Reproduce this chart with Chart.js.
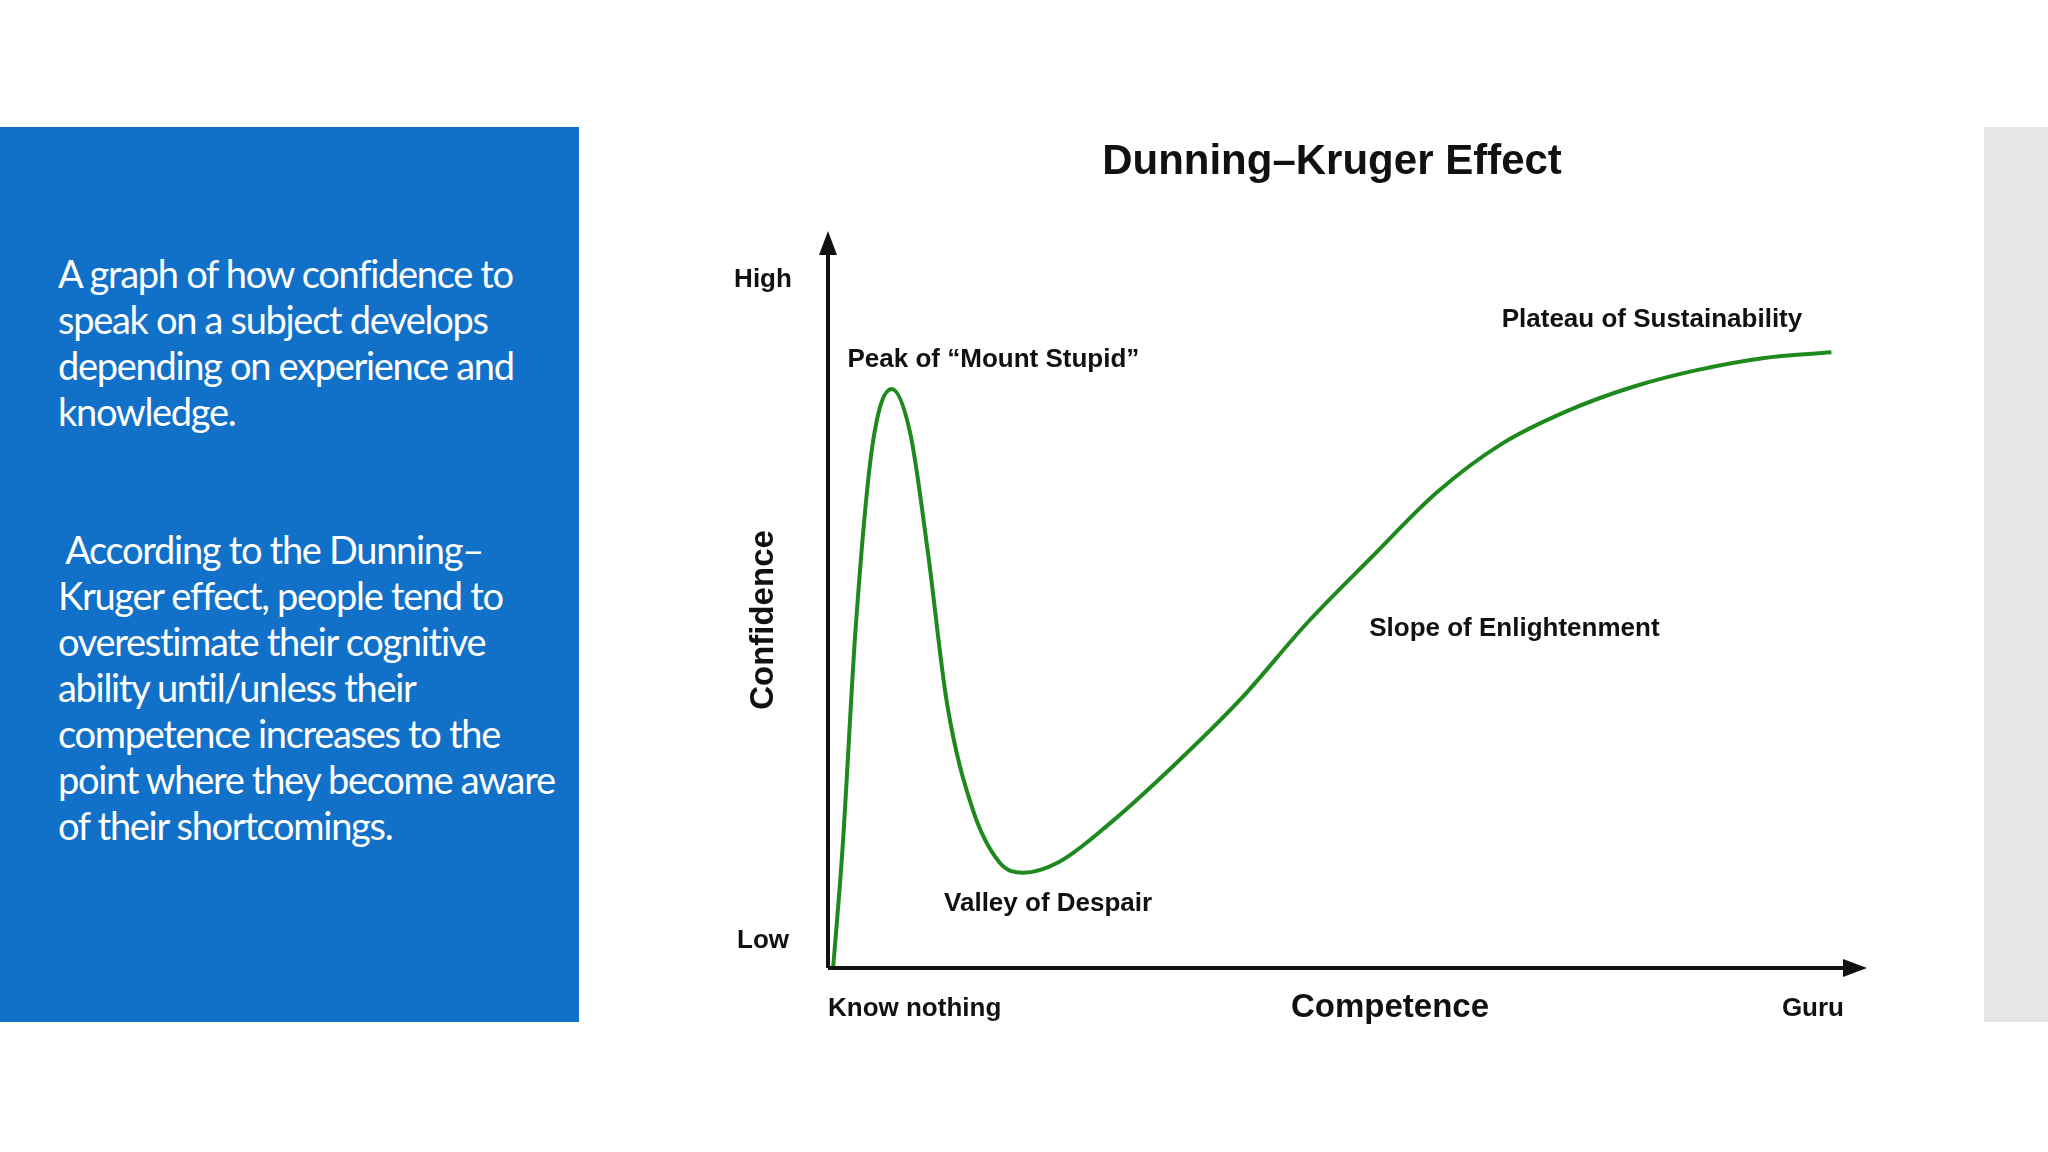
<!DOCTYPE html>
<html><head><meta charset="utf-8">
<script src="https://cdn.jsdelivr.net/npm/chart.js@4"></script>
<style>
html,body{margin:0;padding:0;background:#fff;width:2048px;height:1152px;overflow:hidden;position:relative;font-family:"Liberation Sans",Arial,sans-serif}
#blue{position:absolute;left:0;top:127px;width:579px;height:895px;background:#1170C8}
#gray{position:absolute;left:1984px;top:127px;width:64px;height:895px;background:#e6e6e6}
#txt{position:absolute;left:58px;top:250px;width:500px;color:#fff;font-family:Lato,"Open Sans",sans-serif;font-size:38px;line-height:46px;letter-spacing:-1.3px}
#txt p{margin:0 0 92px 0}
#c{position:absolute;left:0;top:0}
</style></head><body>
<div id="blue"></div><div id="gray"></div>
<div id="txt"><p>A graph of how confidence to speak on a subject develops depending on experience and knowledge.</p><p>&nbsp;According to the Dunning–Kruger effect, people tend to overestimate their cognitive ability until/unless their competence increases to the point where they become aware of their shortcomings.</p></div>
<canvas id="c" width="2048" height="1152"></canvas>
<script>
const competence=[0.5,1.4,2.7,4.3,6.2,8,9.7,11.6,14.1,16.7,19,22.4,27.5,33.8,40.2,46.6,52.9,59.3,65.6,72,78.4,84.7,91,97.7];
const confidence=[0,16,46.5,71,79,73,57,36,21.6,14.4,13,14.4,19.8,27.8,36.7,47,56,64.9,71.5,76,79.3,81.6,83.2,84];
const annotations=[
 {t:'Peak of “Mount Stupid”',x:1.9,y:83,a:'left'},
 {t:'Valley of Despair',x:11.3,y:8.8,a:'left'},
 {t:'Slope of Enlightenment',x:52.7,y:46.3,a:'left'},
 {t:'Plateau of Sustainability',x:65.6,y:88.4,a:'left'}];
const ctx=document.getElementById('c');
const deco={id:'deco',afterDraw(ch){
 const c=ch.ctx,a=ch.chartArea;
 c.save();c.strokeStyle='#111';c.fillStyle='#111';c.lineWidth=4;
 c.beginPath();c.moveTo(a.left,a.bottom);c.lineTo(a.left,a.top+10);c.moveTo(a.left,a.bottom);c.lineTo(a.right-10,a.bottom);c.stroke();
 c.beginPath();c.moveTo(a.left,a.top-4);c.lineTo(a.left-9,a.top+20);c.lineTo(a.left+9,a.top+20);c.fill();
 c.beginPath();c.moveTo(a.right+12,a.bottom);c.lineTo(a.right-12,a.bottom-9);c.lineTo(a.right-12,a.bottom+9);c.fill();
 c.font='bold 42px "Liberation Sans"';c.textAlign='center';c.textBaseline='middle';
 c.fillText('Dunning–Kruger Effect',1332,162);
 c.font='bold 26px "Liberation Sans"';
 c.fillText('High',763,280);c.fillText('Low',763,941);
 c.textAlign='left';c.fillText('Know nothing',828,1009);
 c.textAlign='right';c.fillText('Guru',1844,1009);
 c.textAlign='center';c.font='bold 33px "Liberation Sans"';c.fillText('Competence',1390,1008);
 c.save();c.translate(764,620);c.rotate(-Math.PI/2);c.fillText('Confidence',0,0);c.restore();
 c.font='bold 26px "Liberation Sans"';c.textAlign='left';
 const xs=ch.scales.x,ys=ch.scales.y;
 annotations.forEach(n=>c.fillText(n.t,xs.getPixelForValue(n.x),ys.getPixelForValue(n.y)));
 c.restore();}};
new Chart(ctx,{type:'line',
 data:{datasets:[{data:competence.map((x,i)=>({x,y:confidence[i]})),borderColor:'#1e8a1e',borderWidth:4,pointRadius:0,cubicInterpolationMode:'monotone',fill:false}]},
 options:{responsive:false,animation:false,layout:{padding:{left:828,right:193,top:235,bottom:184}},
  plugins:{legend:{display:false},tooltip:{enabled:false}},
  scales:{x:{type:'linear',min:0,max:100,display:false},y:{min:0,max:100,display:false}}},
 plugins:[deco]});
</script></body></html>
